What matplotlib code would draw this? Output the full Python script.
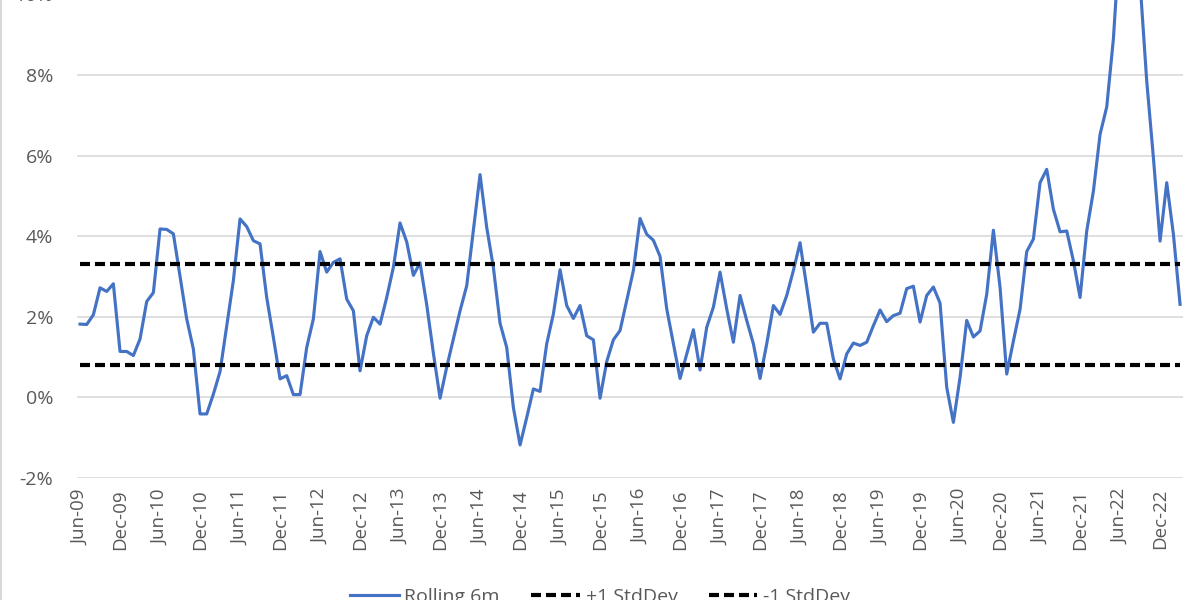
import matplotlib
matplotlib.use("Agg")
import matplotlib.pyplot as plt
from matplotlib.lines import Line2D
from matplotlib.ticker import FuncFormatter
import numpy as np

plt.rcParams['font.family'] = ['Open Sans', 'DejaVu Sans']

# Monthly rolling 6m values (%), Jun-09 .. Mar-23
rolling_6m = [
    1.82, 1.81, 2.05, 2.72, 2.63, 2.82, 1.14, 1.14, 1.04, 1.45, 2.38, 2.60,
    4.18, 4.17, 4.06, 3.00, 1.95, 1.20, -0.41, -0.41, 0.08, 0.64, 1.77, 2.90,
    4.43, 4.24, 3.89, 3.81, 2.48, 1.49, 0.46, 0.54, 0.07, 0.07, 1.24, 1.95,
    3.62, 3.11, 3.35, 3.44, 2.44, 2.15, 0.66, 1.53, 1.99, 1.82, 2.48, 3.23,
    4.33, 3.86, 3.03, 3.34, 2.30, 1.10, -0.02, 0.75, 1.45, 2.15, 2.77, 4.14,
    5.53, 4.22, 3.23, 1.84, 1.24, -0.25, -1.18, -0.50, 0.21, 0.15, 1.33, 2.07,
    3.17, 2.28, 1.96, 2.28, 1.53, 1.43, -0.02, 0.89, 1.43, 1.66, 2.40, 3.15,
    4.44, 4.05, 3.90, 3.50, 2.20, 1.33, 0.47, 1.08, 1.68, 0.68, 1.74, 2.24,
    3.11, 2.20, 1.37, 2.53, 1.91, 1.33, 0.47, 1.33, 2.28, 2.06, 2.53, 3.15,
    3.84, 2.74, 1.62, 1.84, 1.84, 0.95, 0.46, 1.08, 1.35, 1.29, 1.37, 1.78,
    2.17, 1.88, 2.03, 2.09, 2.70, 2.76, 1.87, 2.53, 2.74, 2.34, 0.25, -0.62,
    0.50, 1.91, 1.50, 1.65, 2.56, 4.15, 2.73, 0.58, 1.40, 2.19, 3.62, 3.93,
    5.33, 5.66, 4.67, 4.11, 4.13, 3.39, 2.48, 4.13, 5.12, 6.53, 7.21, 8.90,
    11.50, 12.60, 12.00, 10.30, 7.85, 5.95, 3.88, 5.33, 4.05, 2.31,
]
plus_1_std = 3.30
minus_1_std = 0.80

tick_labels = ['Jun-09', 'Dec-09', 'Jun-10', 'Dec-10', 'Jun-11', 'Dec-11',
               'Jun-12', 'Dec-12', 'Jun-13', 'Dec-13', 'Jun-14', 'Dec-14',
               'Jun-15', 'Dec-15', 'Jun-16', 'Dec-16', 'Jun-17', 'Dec-17',
               'Jun-18', 'Dec-18', 'Jun-19', 'Dec-19', 'Jun-20', 'Dec-20',
               'Jun-21', 'Dec-21', 'Jun-22', 'Dec-22']
y_ticks = [-2, 0, 2, 4, 6, 8, 10]

n = len(rolling_6m)
x = np.arange(n)

TXT = '#595959'
BLUE = '#4472C4'

fig = plt.figure(figsize=(12, 6), dpi=100)
ax = fig.add_axes([76.7 / 1200, 1 - 478 / 600, 1106.7 / 1200, 483.5 / 600])

l1, = ax.plot(x, rolling_6m, color=BLUE, lw=2.25, solid_joinstyle='round', zorder=3)
l2, = ax.plot(x, np.full(n, plus_1_std), color='black', lw=3, dashes=(2.4, 1.2),
              dash_capstyle='butt', zorder=4)
l3, = ax.plot(x, np.full(n, minus_1_std), color='black', lw=3, dashes=(2.4, 1.2),
              dash_capstyle='butt', zorder=4)

ax.set_xlim(-0.5, n - 0.5)
ax.set_ylim(-2, 10)
ax.set_yticks(y_ticks)
ax.yaxis.set_major_formatter(FuncFormatter(lambda v, p: f"{int(round(v))}%"))
ax.set_xticks(np.arange(0, 6 * len(tick_labels), 6))
ax.set_xticklabels(tick_labels, rotation=90)

ax.yaxis.grid(True, color='#d9d9d9', lw=1.2)
ax.set_axisbelow(True)
for s in ax.spines.values():
    s.set_visible(False)
ax.tick_params(axis='both', length=0, labelcolor=TXT)
ax.tick_params(axis='x', pad=8, labelsize=13.5)
ax.tick_params(axis='y', pad=17, labelsize=14)

fig.legend([l1, l2, l3], ['Rolling 6m', '+1 StdDev', '-1 StdDev'],
           loc='center', bbox_to_anchor=(0.5, 1 - 597 / 600), ncol=3,
           frameon=False, fontsize=14, handlelength=2.5, columnspacing=1.6,
           handletextpad=0.3, labelcolor=TXT)

fig.add_artist(Line2D([0.001, 0.001], [0, 1], color='#d9d9d9', lw=1.5,
                      transform=fig.transFigure))

fig.savefig('out.png', dpi=100)
